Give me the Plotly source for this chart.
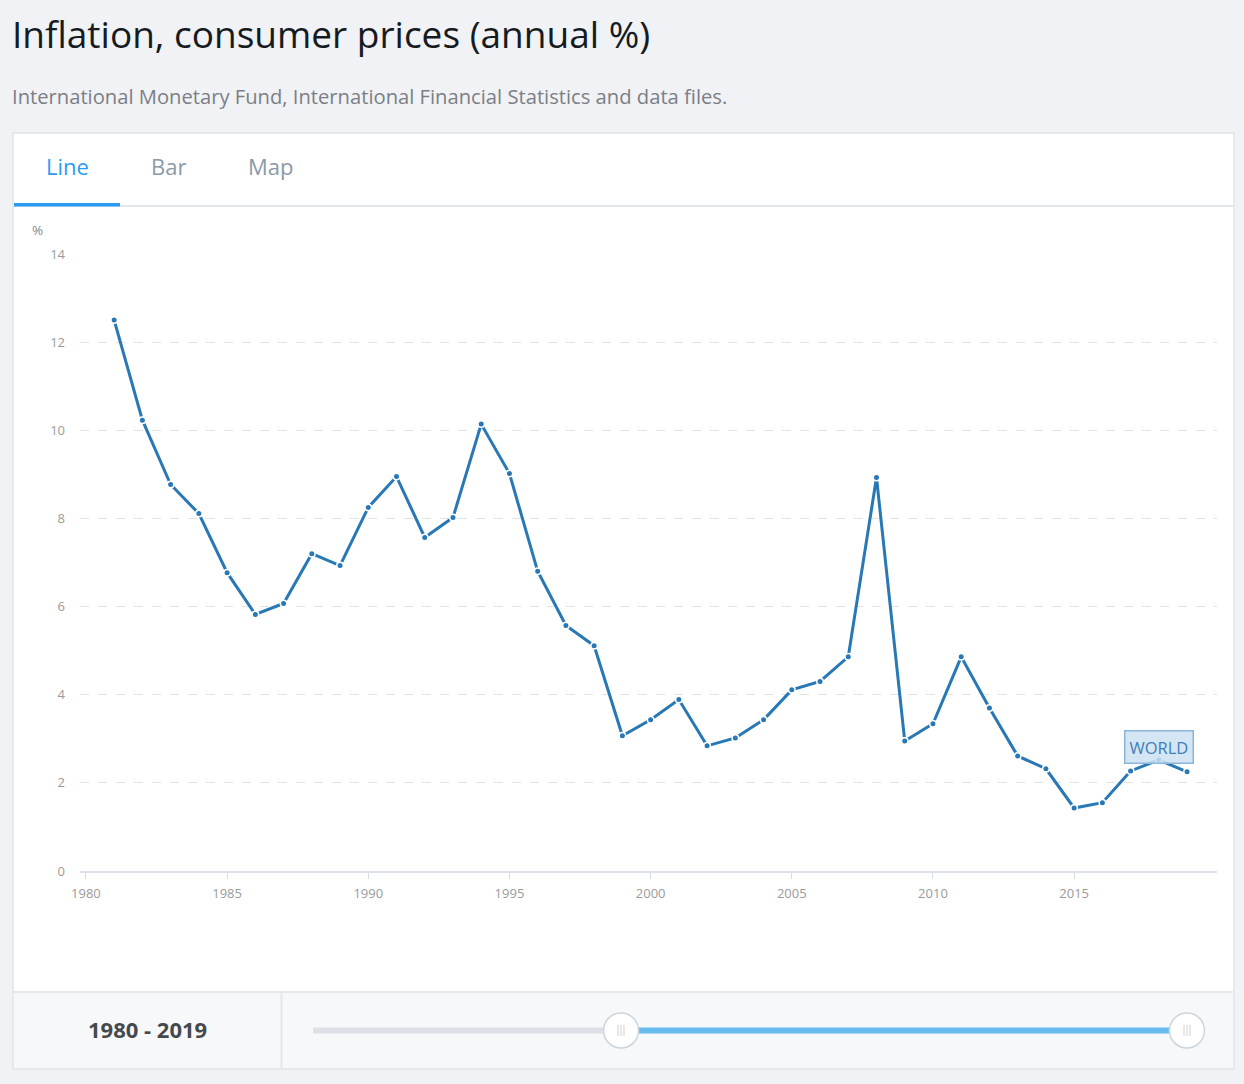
import plotly.graph_objects as go

OFF = 8
W, H = 1244 - 2 * OFF, 1084 - 2 * OFF

years = list(range(1981, 2020))
inflation = [12.50, 10.23, 8.77, 8.11, 6.77, 5.82, 6.07, 7.20, 6.93, 8.25,
             8.95, 7.57, 8.02, 10.14, 9.02, 6.80, 5.57, 5.11, 3.07, 3.43,
             3.89, 2.84, 3.02, 3.43, 4.11, 4.30, 4.86, 8.93, 2.95, 3.34,
             4.86, 3.70, 2.61, 2.32, 1.43, 1.55, 2.27, 2.52, 2.25]
x_ticks = [1980, 1985, 1990, 1995, 2000, 2005, 2010, 2015]
y_ticks = [0, 2, 4, 6, 8, 10, 12, 14]
label_year = 2018
label_value = 2.52


def X(px):
    return (px - OFF) / W


def Y(py):
    return 1 - (py - OFF) / H


fig = go.Figure()
fig.add_trace(go.Scatter(
    x=years, y=inflation, mode="lines+markers",
    line=dict(color="#2878b5", width=3),
    marker=dict(size=6.5, color="#2878b5", line=dict(color="white", width=1.5)),
    hoverinfo="x+y", showlegend=False,
))

shapes = []
shapes.append(dict(type="rect", xref="paper", yref="paper", x0=X(13), x1=X(1234), y0=Y(133), y1=Y(1069),
                   fillcolor="white", line=dict(color="#dfe4e9", width=1.5), layer="below"))
shapes.append(dict(type="line", xref="paper", yref="paper", x0=X(14), x1=X(1233), y0=Y(206), y1=Y(206),
                   line=dict(color="#e3e8ec", width=2), layer="below"))
shapes.append(dict(type="rect", xref="paper", yref="paper", x0=X(14), x1=X(120), y0=Y(203), y1=Y(206.5),
                   fillcolor="#2b9af3", line=dict(width=0), layer="below"))
shapes.append(dict(type="rect", xref="paper", yref="paper", x0=X(14), x1=X(1233), y0=Y(992), y1=Y(1068),
                   fillcolor="#f7f8fa", line=dict(width=0), layer="below"))
shapes.append(dict(type="line", xref="paper", yref="paper", x0=X(14), x1=X(1233), y0=Y(992), y1=Y(992),
                   line=dict(color="#e3e8ec", width=2), layer="below"))
shapes.append(dict(type="line", xref="paper", yref="paper", x0=X(281.5), x1=X(281.5), y0=Y(992), y1=Y(1068),
                   line=dict(color="#e3e8ec", width=2), layer="below"))
shapes.append(dict(type="line", xref="paper", yref="paper", x0=X(313), x1=X(620), y0=Y(1030.5), y1=Y(1030.5),
                   line=dict(color="#dde1e7", width=6), layer="above"))
shapes.append(dict(type="line", xref="paper", yref="paper", x0=X(620), x1=X(1187), y0=Y(1030.5), y1=Y(1030.5),
                   line=dict(color="#68bbed", width=6), layer="above"))
for cx in (621, 1187):
    shapes.append(dict(type="circle", xref="paper", yref="paper", x0=X(cx - 17.5), x1=X(cx + 17.5),
                       y0=Y(1030.5 - 17.5), y1=Y(1030.5 + 17.5),
                       fillcolor="white", line=dict(color="#ccd6de", width=1.5), layer="above"))
    for dx in (-3, 0, 3):
        shapes.append(dict(type="line", xref="paper", yref="paper", x0=X(cx + dx), x1=X(cx + dx),
                           y0=Y(1025), y1=Y(1036), line=dict(color="#cfcfcf", width=1), layer="above"))

annotations = [
    dict(text="Inflation, consumer prices (annual %)", x=X(10), y=Y(33), xref="paper", yref="paper",
         xanchor="left", yanchor="middle", showarrow=False,
         font=dict(family="Open Sans", size=37, color="#161b22")),
    dict(text="International Monetary Fund, International Financial Statistics and data files.",
         x=X(10), y=Y(96), xref="paper", yref="paper", xanchor="left", yanchor="middle", showarrow=False,
         font=dict(family="Open Sans", size=20.2, color="#7b7f85")),
    dict(text="Line", x=X(67), y=Y(166), xref="paper", yref="paper", xanchor="center", yanchor="middle",
         showarrow=False, font=dict(family="Open Sans", size=22, color="#2b9af3")),
    dict(text="Bar", x=X(168), y=Y(166), xref="paper", yref="paper", xanchor="center", yanchor="middle",
         showarrow=False, font=dict(family="Open Sans", size=22, color="#8a9aa8")),
    dict(text="Map", x=X(270), y=Y(166), xref="paper", yref="paper", xanchor="center", yanchor="middle",
         showarrow=False, font=dict(family="Open Sans", size=22, color="#8a9aa8")),
    dict(text="%", x=X(37), y=Y(230), xref="paper", yref="paper", xanchor="center", yanchor="middle",
         showarrow=False, font=dict(family="Open Sans", size=13.5, color="#888888")),
    dict(text="<b>1980 - 2019</b>", x=X(147), y=Y(1029), xref="paper", yref="paper", xanchor="center",
         yanchor="middle", showarrow=False, font=dict(family="Open Sans", size=22, color="#45494e")),
    dict(text="WORLD", x=label_year, y=label_value, xref="x", yref="y", xanchor="center", yanchor="bottom",
         yshift=-4, showarrow=False, bgcolor="rgba(205,225,241,0.85)", bordercolor="#8bb5da", borderwidth=1.5,
         borderpad=4, font=dict(family="Open Sans", size=16.5, color="#3f7fb8")),
]

fig.update_layout(
    width=W, height=H, margin=dict(l=0, r=0, t=0, b=0, pad=0, autoexpand=False),
    paper_bgcolor="#f0f2f5", plot_bgcolor="rgba(0,0,0,0)",
    shapes=shapes, annotations=annotations,
    font=dict(family="Open Sans", color="#999999"),
    xaxis=dict(domain=[X(80), X(1217)], range=[1979.79, 2020.06], tickmode="array", tickvals=x_ticks,
               ticktext=[str(t) for t in x_ticks], showgrid=False, zeroline=False, automargin=False,
               showline=True, linecolor="#dde3ea", linewidth=2, ticks="outside", ticklen=6,
               ticklabelstandoff=3,
               tickcolor="#d6dde5", tickwidth=1, tickfont=dict(size=13, color="#9a9a9a"), fixedrange=True),
    yaxis=dict(domain=[Y(871), Y(254)], range=[0, 14], tickmode="array", tickvals=y_ticks,
               ticktext=[str(t) for t in y_ticks], showgrid=True, gridcolor="#e3e3e3", griddash="dash",
               gridwidth=1, zeroline=False, showline=False, ticks="", ticklabelstandoff=14, automargin=False,
               tickfont=dict(size=13, color="#9a9a9a"), fixedrange=True),
    showlegend=False,
)

fig.write_html("out.html", config={"displayModeBar": False},
               post_script="document.body.style.background='#f0f2f5';")
